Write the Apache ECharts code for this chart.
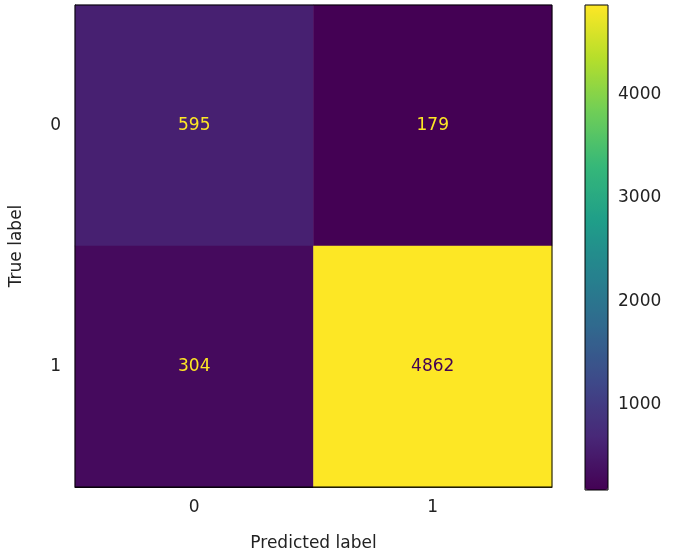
<!DOCTYPE html>
<html><head><meta charset="utf-8">
<script src="https://cdn.jsdelivr.net/npm/echarts@6/dist/echarts.min.js"></script>
<style>html,body{margin:0;padding:0;background:#fff}#c{width:685px;height:557px}</style>
</head><body><div id="c"></div>
<script>
const xCats = ['0','1'];
const yCats = ['0','1'];
const cells = [[0,0,595],[1,0,179],[0,1,304],[1,1,4862]];
const cbTicks = [1000,2000,3000,4000];
const vmin = 179, vmax = 4862;
const viridis = ['#440154','#482878','#3e4989','#31688e','#26828e','#1f9e89','#35b779','#6ece58','#b5de2b','#fde725'];
const chart = echarts.init(document.getElementById('c'));
const font = 'DejaVu Sans';
chart.setOption({
  animation:false,
  textStyle:{fontFamily:font},
  grid:[
    {left:68, top:5, width:484, height:485, show:true, borderColor:'#000', borderWidth:1, z:10},
    {left:585, top:5, width:23, height:485, show:true, borderColor:'#000', borderWidth:1, backgroundColor:'transparent', z:10}
  ],
  xAxis:[
    {type:'category', data:xCats, gridIndex:0, name:'Predicted label', nameLocation:'middle', nameGap:48,
     nameTextStyle:{fontSize:17,color:'#222',fontFamily:font},
     axisLine:{lineStyle:{color:'#000'}}, axisTick:{alignWithLabel:true,length:6,lineStyle:{color:'#000'}},
     axisLabel:{fontSize:17,color:'#222',margin:12}, splitLine:{show:false}},
    {type:'value', gridIndex:1, show:false, min:0, max:1}
  ],
  yAxis:[
    {type:'category', data:yCats, gridIndex:0, inverse:true, name:'True label', nameLocation:'middle', nameGap:50,
     nameTextStyle:{fontSize:17,color:'#222',fontFamily:font},
     axisLine:{lineStyle:{color:'#000'}}, axisTick:{alignWithLabel:true,length:6,lineStyle:{color:'#000'}},
     axisLabel:{fontSize:17,color:'#222',margin:14}},
    {type:'value', gridIndex:1, position:'right', min:vmin, max:vmax,
     axisLine:{show:false}, splitLine:{show:false},
     axisTick:{show:true,length:6,lineStyle:{color:'#000'},customValues:cbTicks},
     axisLabel:{fontSize:17,color:'#222',margin:10,customValues:cbTicks,formatter:v=>String(v)}}
  ],
  visualMap:{type:'continuous', min:vmin, max:vmax, calculable:false, seriesIndex:0,
    left:585, top:5, itemWidth:23, itemHeight:485, padding:0, text:['',''], showLabel:false,
    inRange:{color:viridis}},
  series:[{type:'heatmap', xAxisIndex:0, yAxisIndex:0,
    data:cells.map(c=>({value:c,label:{color:c[2]>(vmin+vmax)/2?'#440154':'#fde725'}})),
    label:{show:true, fontSize:17, fontFamily:font, formatter:p=>String(p.value[2])}
  }]
});
</script></body></html>
